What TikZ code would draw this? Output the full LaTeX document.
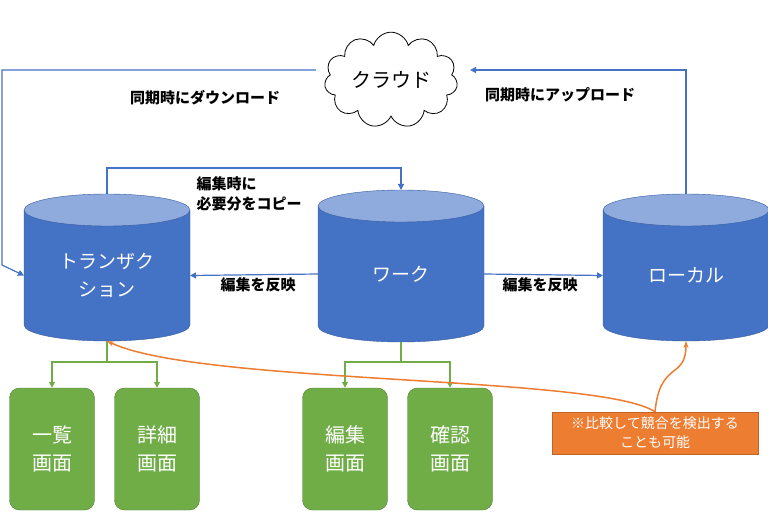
\documentclass[tikz,border=0pt]{standalone}
\usepackage{fontspec}
\setmainfont{Noto Sans CJK JP}
\usetikzlibrary{shapes.symbols,arrows.meta}
\definecolor{cb}{HTML}{4472C4}
\definecolor{ct}{HTML}{8FAADC}
\definecolor{gr}{HTML}{70AD47}
\definecolor{grd}{HTML}{507E32}
\definecolor{og}{HTML}{ED7D31}
\definecolor{ln}{HTML}{4472C4}
\newcommand\mycyl[5]{% name cx top bot text
  \fill[cb] (#2-83,#3) -- (#2-83,#4) arc[start angle=180,end angle=0,x radius=83,y radius=16] -- (#2+83,#3) -- cycle;
  \draw[cb!80!black,fill=ct] (#2,#3) ellipse[x radius=83,y radius=16];
  \draw[cb!80!black] (#2-83,#3)--(#2-83,#4) arc[start angle=180,end angle=0,x radius=83,y radius=16]--(#2+83,#3);
  \node[text=white,font=\fontsize{19}{28}\selectfont,align=center] (#1) at (#2,{(#3+#4)/2+8}) {#5};
  \coordinate (#1-top) at (#2,#3-16);
  \coordinate (#1-bot) at (#2,#4+16);
  \coordinate (#1-l) at (#2-83,{(#3+#4)/2+8});
  \coordinate (#1-r) at (#2+83,{(#3+#4)/2+8});}
\tikzset{
  conn/.style={ln,line width=1.2pt,-{Triangle[length=6pt,width=6pt]}},
  gconn/.style={gr,line width=1.5pt,-{Triangle[length=6pt,width=6pt]}},
  oconn/.style={og,line width=1.5pt,-{Stealth[length=7pt,width=5pt]}},
  lbl/.style={font=\bfseries\fontsize{15}{20}\selectfont,align=left},
  scr/.style={draw=grd,fill=gr,rounded corners=10pt,minimum width=85pt,minimum height=122pt,text=white,font=\fontsize{20}{28}\selectfont,align=center,inner sep=0pt}
}
\begin{document}
\begin{tikzpicture}[x=1pt,y=-1pt]
\useasboundingbox (0,0) rectangle (768,513);
\mycyl{t}{107}{210}{325}{トランザク\\ション}
\mycyl{w}{401}{206}{326}{ワーク}
\mycyl{l}{686}{210}{325}{ローカル}
\node[cloud,cloud puffs=11,aspect=1.7,draw=black,fill=white,thick,minimum width=125pt,minimum height=78pt,font=\fontsize{20}{24}\selectfont] (c) at (391,80) {クラウド};
\draw[conn] (316,70) -| (2,265) -- (t-l);
\node[lbl] at (205,98) {同期時にダウンロード};
\draw[conn] (l-top) |- (470,70);
\node[lbl] at (560,95) {同期時にアップロード};
\draw[conn] (t-top) |- (401,168) -- (w-top);
\node[lbl,anchor=west] at (193,194) {編集時に\\必要分をコピー};
\draw[conn] (w-l) -- (t-r);
\draw[conn] (w-r) -- (l-l);
\node[lbl] at (258,285) {編集を反映};
\node[lbl] at (540,285) {編集を反映};
\node[scr] (s1) at (52,449) {一覧\\画面};
\node[scr] (s2) at (157,449) {詳細\\画面};
\node[scr] (s3) at (345,449) {編集\\画面};
\node[scr] (s4) at (450,449) {確認\\画面};
\draw[gconn] (t-bot) -- (107,362) -| (s1.north);
\draw[gconn] (107,362) -| (s2.north);
\draw[gconn] (w-bot) -- (401,362) -| (s3.north);
\draw[gconn] (401,362) -| (s4.north);
\node[fill=og,draw=og!80!black,minimum width=206pt,minimum height=42pt,text=white,font=\fontsize{14}{19}\selectfont,align=center,inner sep=1pt] (n) at (655,433) {※比較して競合を検出する\\ことも可能};
\draw[oconn] (n.north) .. controls (600,375) and (200,385) .. (t-bot);
\draw[oconn] (n.north) .. controls (660,360) and (686,380) .. (l-bot);
\end{tikzpicture}
\end{document}
